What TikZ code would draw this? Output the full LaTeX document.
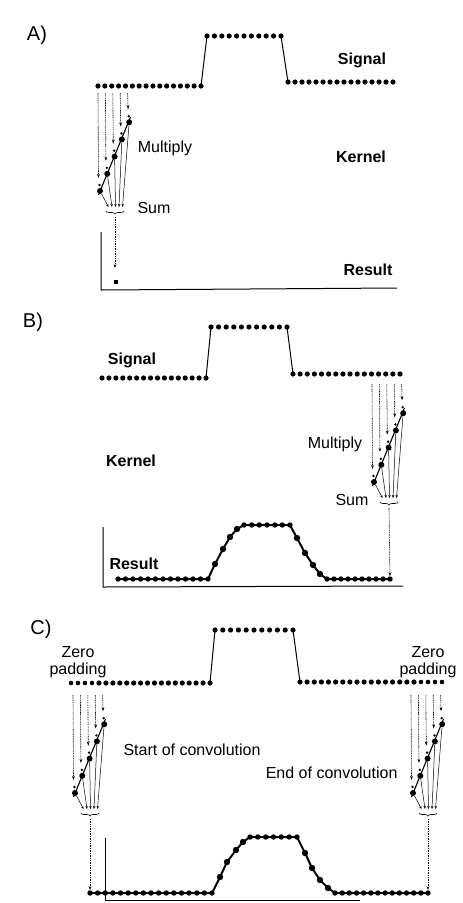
\documentclass[tikz,border=0pt]{standalone}
\usepackage{fontspec}
\setmainfont{Liberation Sans}
\usetikzlibrary{arrows.meta,decorations.pathreplacing}
\newcommand{\sigrow}[6]{%
  \foreach \i in {1,...,#5}{%
    \node[#6] (#1\i) at ({#2+(#3-#2)*(\i-1)/(#5-1)},#4) {};
  }}
\newcommand{\drawkernel}[3]{%
\begin{scope}[shift={(#2,#3)}]
  \foreach \i in {0,...,4}{%
    \coordinate (#1a\i) at ({98+7.4*\i},93);
    \coordinate (#1t\i) at ({98.5+7.4*\i},{178-17.2*\i});
    \node[mdot] (#1m\i) at ({99.5+7.3*\i},{185-17.2*\i}) {};
    \coordinate (#1s\i) at ({108.5+3.5*\i},207);
  }
  \coordinate (#1e1) at (98.5,195);
  \coordinate (#1e2) at (130.5,117);
  \draw[kline] (#1e1) -- (#1e2);
  \foreach \i in {0,...,4}{%
    \node[kdot] (#1k\i) at ({100+7.3*\i},{191-17.2*\i}) {};
    \draw[arr] (#1a\i) -- (#1t\i);
    \draw[sline] (#1k\i) -- (#1s\i);
  }
  \coordinate (#1b1) at (106,211);
  \coordinate (#1b2) at (124,211);
  \draw[brc] (#1b1) -- (#1b2);
  \coordinate (#1bc) at (115,217);
\end{scope}}
\begin{document}
\begin{tikzpicture}[x=1pt,y=-1pt,
  sdot/.style={circle,fill=black,inner sep=0pt,minimum size=5.2pt},
  pdot/.style={circle,fill=black,inner sep=0pt,minimum size=4.6pt},
  kdot/.style={circle,fill=black,inner sep=0pt,minimum size=6pt},
  mdot/.style={circle,fill=black,inner sep=0pt,minimum size=2.6pt},
  rdot/.style={circle,fill=black,inner sep=0pt,minimum size=5.4pt},
  rbig/.style={circle,fill=black,inner sep=0pt,minimum size=6.4pt},
  sqdot/.style={rectangle,fill=black,inner sep=0pt,minimum size=4pt},
  sigline/.style={line width=1pt},
  resline/.style={line width=2pt},
  arr/.style={dash pattern=on 1pt off 0.7pt,line width=0.6pt,-{Stealth[length=4pt,width=2.8pt]}},
  sline/.style={line width=0.5pt,-{Stealth[length=3pt,width=2.4pt]}},
  kline/.style={line width=1.1pt},
  axis/.style={line width=1pt},
  brc/.style={decorate,decoration={brace,amplitude=3pt,mirror},line width=0.6pt},
  lab/.style={font=\fontsize{16}{18}\selectfont},
  blab/.style={font=\fontsize{16}{18}\selectfont\bfseries},
  plab/.style={font=\fontsize{20}{22}\selectfont},
]
\fill[white] (0,0) rectangle (463,903);
\useasboundingbox (0,0) rectangle (463,903);

% ---------------- Panel A ----------------
\node[plab] (labA) at (37,35) {A)};
\sigrow{asl}{98}{201}{86}{16}{sdot}
\sigrow{ast}{207}{281}{36}{11}{sdot}
\sigrow{asr}{288}{393}{82}{16}{sdot}
\draw[sigline] (asl16.center) -- (ast1.center);
\draw[sigline] (ast11.center) -- (asr1.center);
\node[blab] (sigA) at (362,60) {Signal};
\node[blab] (kerA) at (361,157) {Kernel};
\node[lab] (mulA) at (165,148) {Multiply};
\node[lab] (sumA) at (154,208) {Sum};
\node[blab] (resA) at (368,270) {Result};
\drawkernel{ka}{0}{0}
\coordinate (kaend) at (115,268);
\draw[arr] (kabc) -- (kaend);
\node[sqdot] (resptA) at (116,282) {};
\coordinate (axAt) at (101,232);
\coordinate (axAo) at (101,290);
\coordinate (axAr) at (397,288);
\draw[axis] (axAt) -- (axAo) -- (axAr);

% ---------------- Panel B ----------------
\node[plab] (labB) at (33,322) {B)};
\sigrow{bsl}{102}{206}{378}{16}{sdot}
\sigrow{bst}{211}{287}{327}{11}{sdot}
\sigrow{bsr}{293}{400}{374}{16}{sdot}
\draw[sigline] (bsl16.center) -- (bst1.center);
\draw[sigline] (bst11.center) -- (bsr1.center);
\node[blab] (sigB) at (132,360) {Signal};
\node[blab] (kerB) at (131,461) {Kernel};
\node[lab] (mulB) at (335,444) {Multiply};
\node[lab] (sumB) at (352,500) {Sum};
\node[blab] (resB) at (134,564) {Result};
\drawkernel{kb}{274}{291}
\coordinate (axBt) at (103,527);
\coordinate (axBo) at (103,587);
\coordinate (axBr) at (403,586);
\draw[axis] (axBt) -- (axBo) -- (axBr);
\foreach [count=\j] \x/\y/\s in {118/579/rdot,125.5/579/rdot,133/579/rdot,140.5/579/rdot,148/579/rdot,155.5/579/rdot,163/579/rdot,170.5/579/rdot,178/579/rdot,185.5/579/rdot,193/579/rdot,200.5/579/rdot,208/579/rdot,
  215/564/rbig,223/549/rbig,230/537/rbig,237/529/rbig,
  244/525/rdot,251.7/525/rdot,259.3/525/rdot,267/525/rdot,274.7/525/rdot,282.3/525/rdot,290/525/rdot,
  297/538/rbig,305/553/rbig,313/565/rbig,320/574/rbig,
  327/579/rdot,334/579/rdot,341/579/rdot,348/579/rdot,355/579/rdot,362/579/rdot,369/579/rdot,376/579/rdot,383/579/rdot,390/579/rdot}
  {\node[\s] (rb\j) at (\x,\y) {};}
\draw[resline] (rb1.center) \foreach \j in {2,...,38}{ -- (rb\j.center)};
\draw[arr] (kbbc) -- (rb38);

% ---------------- Panel C ----------------
\node[plab] (labC) at (41,629) {C)};
\sigrow{csp}{71}{92}{683}{4}{pdot}
\sigrow{csl}{99}{210}{683}{17}{sdot}
\sigrow{cst}{215}{293}{630}{11}{sdot}
\sigrow{csr}{300}{414}{682}{17}{sdot}
\sigrow{csq}{421}{442}{682}{4}{pdot}
\draw[sigline] (csl17.center) -- (cst1.center);
\draw[sigline] (cst11.center) -- (csr1.center);
\node[lab,align=center] (zpL) at (78,662) {Zero\\[-1pt]padding};
\node[lab,align=center] (zpR) at (428,662) {Zero\\[-1pt]padding};
\node[lab,anchor=west] (startC) at (120,750) {Start of convolution};
\node[lab,anchor=east] (endC) at (401,773) {End of convolution};
\drawkernel{kc}{-25}{602}
\drawkernel{kd}{313}{602}
\coordinate (axCt) at (105,838);
\coordinate (axCo) at (105,900);
\coordinate (axCr) at (360,900);
\draw[axis] (axCt) -- (axCo) -- (axCr);
\foreach [count=\j] \x/\y/\s in {90/893/rdot,97.6/893/rdot,105.3/893/rdot,112.9/893/rdot,120.5/893/rdot,128.1/893/rdot,135.8/893/rdot,143.4/893/rdot,151/893/rdot,158.6/893/rdot,166.3/893/rdot,173.9/893/rdot,181.5/893/rdot,189.1/893/rdot,196.8/893/rdot,204.4/893/rdot,212/893/rdot,
  220/877/rbig,227/862/rbig,236/850/rbig,243/842/rbig,
  250/837/rdot,257.8/837/rdot,265.7/837/rdot,273.5/837/rdot,281.3/837/rdot,289.2/837/rdot,297/837/rdot,
  305/853/rbig,312/868/rbig,320/880/rbig,328/888/rbig,
  335/893/rdot,342.2/893/rdot,349.3/893/rdot,356.5/893/rdot,363.6/893/rdot,370.8/893/rdot,377.9/893/rdot,385.1/893/rdot,392.2/893/rdot,399.4/893/rdot,406.5/893/rdot,413.7/893/rdot,420.8/893/rdot,428/893/rdot}
  {\node[\s] (rc\j) at (\x,\y) {};}
\draw[resline] (rc1.center) \foreach \j in {2,...,46}{ -- (rc\j.center)};
\draw[arr] (kcbc) -- (rc1);
\draw[arr] (kdbc) -- (rc46);
\end{tikzpicture}
\end{document}
